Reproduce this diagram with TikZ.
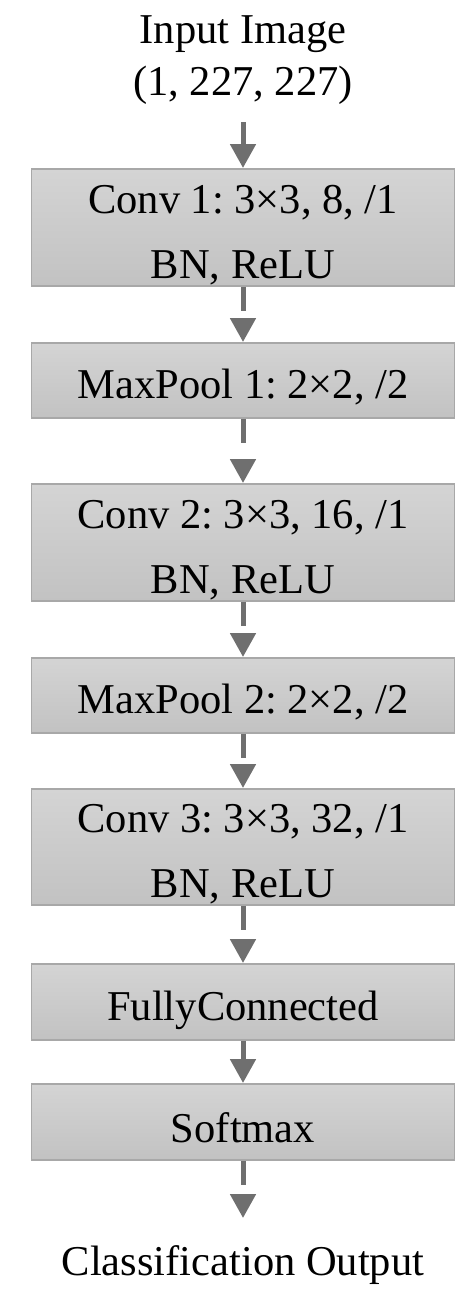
\documentclass[tikz,border=0pt]{standalone}
\usepackage{fontspec}
\setmainfont{Liberation Serif}
\frenchspacing
\usetikzlibrary{arrows.meta}
\definecolor{boxtop}{HTML}{D4D4D4}
\definecolor{boxbot}{HTML}{C2C2C2}
\definecolor{boxline}{HTML}{A8A8A8}
\definecolor{arrowgray}{HTML}{6F6F6F}
\begin{document}
\begin{tikzpicture}[x=1pt,y=-1pt,
  layer/.style={draw=boxline, line width=1.8pt, top color=boxtop, bottom color=boxbot,
    minimum width=423pt, inner sep=0pt, anchor=north, align=center,
    font=\fontsize{42.5}{65}\selectfont\frenchspacing},
  twoline/.style={layer, text height=110pt, text depth=7pt},
  oneline/.style={layer, text height=57pt, text depth=19pt},
  label/.style={inner sep=0pt, anchor=north, align=center},
  flow/.style={draw=arrowgray, line width=5pt, dash pattern=on 24pt off 200pt,
    -{Triangle[width=25pt,length=24pt]}}
]
\useasboundingbox (0,0) rectangle (474,1293);
\node[label, font=\fontsize{42.5}{52}\selectfont\frenchspacing, text height=95pt, text depth=27pt] (in) at (243,0) {Input Image\\(1, 227, 227)};
\node[twoline] (c1) at (243,168) {Conv 1: 3×3, 8, /1\\BN, ReLU};
\node[oneline, text height=56pt] (p1) at (243,342) {MaxPool 1: 2×2, /2};
\node[twoline] (c2) at (243,483) {Conv 2: 3×3, 16, /1\\BN, ReLU};
\node[oneline, text height=56pt] (p2) at (243,657) {MaxPool 2: 2×2, /2};
\node[twoline, text height=109pt] (c3) at (243,788) {Conv 3: 3×3, 32, /1\\BN, ReLU};
\node[oneline] (fc) at (243,963) {FullyConnected};
\node[oneline, text height=59pt, text depth=17pt] (sm) at (243,1083) {Softmax};
\node[label, font=\fontsize{42.5}{52}\selectfont\frenchspacing, text height=57pt, text depth=18pt] (out) at (243,1218) {Classification Output};
\draw[flow] (in.south) -- (c1.north);
\draw[flow] (c1.south) -- (p1.north);
\draw[flow] (p1.south) -- (c2.north);
\draw[flow] (c2.south) -- (p2.north);
\draw[flow] (p2.south) -- (c3.north);
\draw[flow] (c3.south) -- (fc.north);
\draw[flow] (fc.south) -- (sm.north);
\draw[flow] (sm.south) -- (out.north);
\end{tikzpicture}
\end{document}
